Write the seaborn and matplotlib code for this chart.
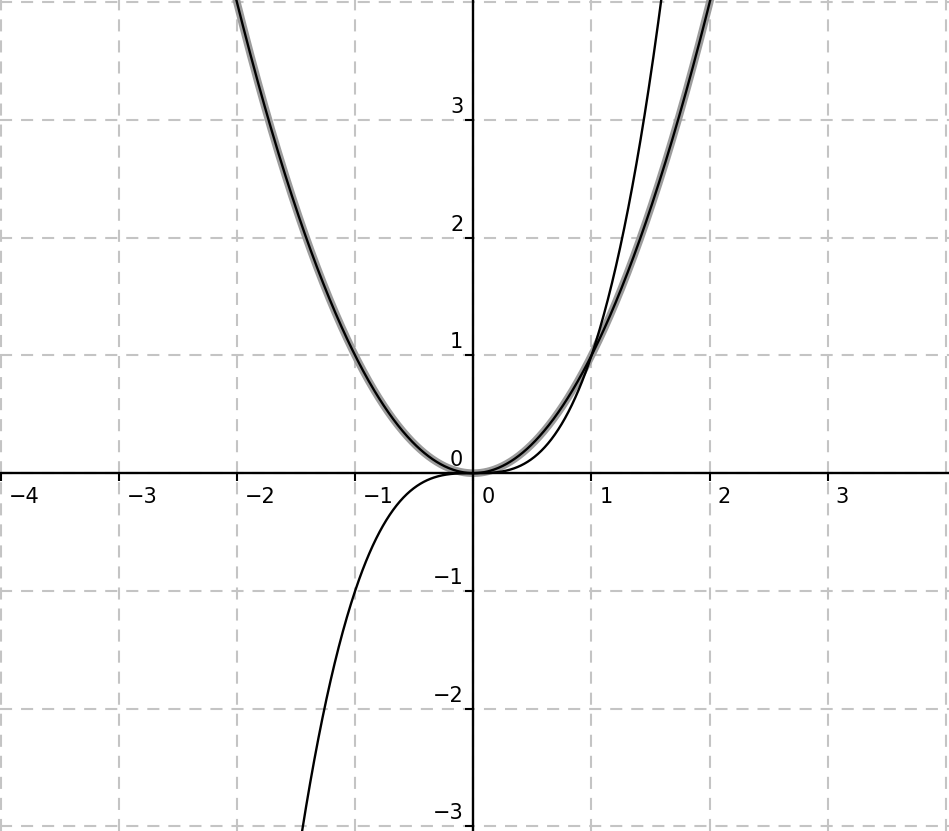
"""Function plot of y = x^2 and y = x^3 on a dashed integer grid."""

import matplotlib

matplotlib.use("Agg")
import matplotlib.pyplot as plt
import numpy as np
import pandas as pd
import seaborn as sns

sns.set_style("white")
plt.rcParams["font.family"] = ["DejaVu Sans"]
plt.rcParams["text.color"] = "black"

# Curves shown in the picture: y = x**power
square_power = 2
cube_power = 3
x_ticks = [-4, -3, -2, -1, 0, 1, 2, 3]
y_ticks = [-3, -2, -1, 0, 1, 2, 3]
x_range = (-4.005, 4.025)
y_range = (-3.04, 4.02)

xs = np.linspace(-2.3, 2.3, 801)
curves = pd.DataFrame({"x": xs, "square": xs ** square_power, "cube": xs ** cube_power})

fig = plt.figure(figsize=(9.49, 8.31), dpi=100)
ax = fig.add_axes([0, 0, 1, 1])

# dashed grid at every integer
for gx in range(-4, 5):
    ax.axvline(gx, color="#c4c4c4", lw=1.5, ls=(0, (5.8, 4.3)), zorder=0)
for gy in range(-3, 5):
    ax.axhline(gy, color="#c4c4c4", lw=1.5, ls=(0, (5.8, 4.3)), zorder=0)

sns.lineplot(data=curves, x="x", y="square", color="#9c9c9c", lw=5.5, ax=ax,
             zorder=3, sort=False)
sns.lineplot(data=curves, x="x", y="square", color="black", lw=1.7, ax=ax,
             zorder=4, sort=False)
sns.lineplot(data=curves, x="x", y="cube", color="black", lw=1.7, ax=ax,
             zorder=4, sort=False)

ax.set_xlim(*x_range)
ax.set_ylim(*y_range)

for side in ("top", "right"):
    ax.spines[side].set_visible(False)
for side in ("left", "bottom"):
    ax.spines[side].set_position("zero")
    ax.spines[side].set_linewidth(1.7)
    ax.spines[side].set_color("black")
    ax.spines[side].set_zorder(5)

ax.set_xticks(x_ticks)
ax.set_yticks(y_ticks)
ax.tick_params(axis="both", direction="out", length=5.8, width=1.5,
               color="black", bottom=True, left=True,
               labelbottom=False, labelleft=False)
ax.set_xlabel("")
ax.set_ylabel("")

for t in x_ticks:
    ax.annotate(str(t).replace("-", "\u2212"), (t, 0), xytext=(8, -14),
                textcoords="offset pixels", ha="left", va="top", fontsize=15,
                color="black")
for t in y_ticks:
    ax.annotate(str(t).replace("-", "\u2212"), (0, t), xytext=(-10, 3),
                textcoords="offset pixels", ha="right", va="bottom", fontsize=15,
                color="black")

fig.savefig("out.png", dpi=100)
plt.close(fig)
